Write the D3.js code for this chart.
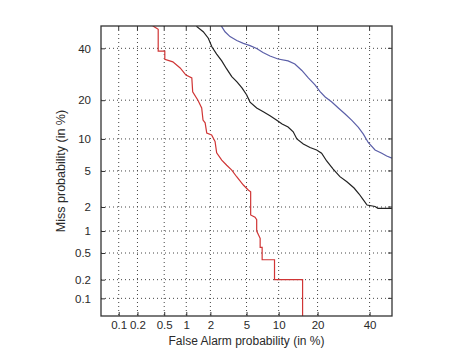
<!DOCTYPE html>
<html>
<head>
<meta charset="utf-8">
<script src="https://cdn.jsdelivr.net/npm/d3@7"></script>
<style>
  body { margin: 0; background: #fff; }
  svg { display: block; }
  text { font-family: "Liberation Sans", Arial, sans-serif; fill: #2a2a2a; }
</style>
</head>
<body>
<svg id="drawing_region"></svg>
<script>
// tick labels (in %)
const xTicks = [0.1, 0.2, 0.5, 1, 2, 5, 10, 20, 40];
const yTicks = [0.1, 0.2, 0.5, 1, 2, 5, 10, 20, 40];

// curves: false alarm % / miss %
const redFA   = [0.30, 0.345, 0.41, 0.41, 0.51, 0.51, 0.66, 0.83, 0.99, 1.18, 1.21, 1.41, 1.57, 1.63, 1.73, 1.81, 2.07, 2.27, 2.37, 2.71, 3.08, 3.5, 3.95, 4.64, 5.2, 5.5, 5.5, 6.07, 6.3, 6.3, 6.8, 6.8, 7.1, 7.1, 9.2, 9.2, 15.6, 15.6];
const redMiss = [55, 50, 48.5, 38.8, 38.8, 35.3, 34.2, 31.7, 28.9, 27.8, 22.8, 20.0, 17.6, 14.3, 13.6, 11.2, 10.8, 9.5, 7.5, 6.4, 5.7, 5.1, 4.36, 3.56, 3.14, 3.0, 1.6, 1.5, 1.4, 1.0, 0.8, 0.6, 0.6, 0.4, 0.4, 0.2, 0.2, 0.01];

const blackFA   = [1.25, 1.37, 1.64, 1.89, 2.09, 2.37, 2.71, 3.08, 3.5, 3.98, 4.49, 5.02, 5.42, 6.3, 7.28, 8.39, 9.49, 10.7, 12.0, 13.2, 14.1, 15.8, 17.7, 19.7, 21.3, 23.0, 25.3, 27.8, 30.5, 33.4, 35.5, 37.3, 38.9, 42.4, 43.7, 50];
const blackMiss = [55, 49.7, 47.4, 44.5, 40.6, 37.5, 34.6, 31.3, 28.3, 26.3, 24.1, 21.7, 19.4, 17.6, 16.5, 15.4, 14.4, 13.3, 12.6, 11.5, 10.0, 9.03, 8.4, 7.97, 7.44, 6.28, 5.23, 4.37, 3.86, 3.3, 2.83, 2.42, 2.11, 2.03, 1.93, 1.93];

const blueFA   = [2.52, 2.71, 2.95, 3.35, 3.96, 4.64, 5.42, 6.3, 7.23, 8.39, 9.88, 12.0, 13.6, 15.4, 17.2, 19.2, 20.8, 22.4, 24.8, 27.2, 29.8, 32.5, 35.2, 37.3, 39.4, 42.4, 45.4, 47.6, 50];
const blueMiss = [52, 49.7, 47.4, 45.2, 43.5, 42.2, 41.2, 39.9, 38.2, 36.7, 35.4, 34.6, 33.3, 30.7, 27.8, 25.2, 22.8, 21.1, 19.4, 17.6, 15.9, 14.2, 12.5, 11.0, 9.31, 7.97, 7.44, 7.0, 6.67];

// inverse of the standard normal cdf (Acklam)
function probit(p) {
    const a = [-3.969683028665376e+01, 2.209460984245205e+02, -2.759285104469687e+02, 1.383577518672690e+02, -3.066479806614716e+01, 2.506628277459239e+00];
    const b = [-5.447609879822406e+01, 1.615858368580409e+02, -1.556989798598866e+02, 6.680131188771972e+01, -1.328068155288572e+01];
    const c = [-7.784894002430293e-03, -3.223964580411365e-01, -2.400758277161838e+00, -2.549732539343734e+00, 4.374664141464968e+00, 2.938163982698783e+00];
    const d = [7.784695709041462e-03, 3.224671290700398e-01, 2.445134137142996e+00, 3.754408661907416e+00];
    const pl = 0.02425;
    let q, r;
    if (p < pl) {
        q = Math.sqrt(-2 * Math.log(p));
        return (((((c[0]*q+c[1])*q+c[2])*q+c[3])*q+c[4])*q+c[5]) / ((((d[0]*q+d[1])*q+d[2])*q+d[3])*q+1);
    }
    if (p <= 1 - pl) {
        q = p - 0.5; r = q * q;
        return (((((a[0]*r+a[1])*r+a[2])*r+a[3])*r+a[4])*r+a[5])*q / (((((b[0]*r+b[1])*r+b[2])*r+b[3])*r+b[4])*r+1);
    }
    q = Math.sqrt(-2 * Math.log(1 - p));
    return -(((((c[0]*q+c[1])*q+c[2])*q+c[3])*q+c[4])*q+c[5]) / ((((d[0]*q+d[1])*q+d[2])*q+d[3])*q+1);
}

const config = { width: 474, height: 354, left: 101, right: 392, top: 26, bottom: 316 };
const lo = probit(0.0005), hi = probit(0.5);

const xs = d3.scaleLinear().domain([lo, hi]).range([config.left, config.right]);
const ys = d3.scaleLinear().domain([lo, hi]).range([config.bottom, config.top]);
const xp = v => xs(probit(v / 100));
const yp = v => ys(probit(v / 100));

const svg = d3.select('#drawing_region')
    .attr('width', config.width)
    .attr('height', config.height);

svg.append('defs').append('clipPath').attr('id', 'clip')
    .append('rect')
    .attr('x', config.left).attr('y', config.top)
    .attr('width', config.right - config.left)
    .attr('height', config.bottom - config.top);

// grid
const grid = svg.append('g');
grid.selectAll('.gx').data(xTicks).enter().append('line')
    .attr('x1', d => xp(d)).attr('x2', d => xp(d))
    .attr('y1', config.top).attr('y2', config.bottom)
    .attr('stroke', '#444').attr('stroke-width', 1).attr('stroke-dasharray', '1,3');
grid.selectAll('.gy').data(yTicks).enter().append('line')
    .attr('y1', d => yp(d)).attr('y2', d => yp(d))
    .attr('x1', config.left).attr('x2', config.right)
    .attr('stroke', '#444').attr('stroke-width', 1).attr('stroke-dasharray', '1,3');

// curves
const line = d3.line().x(d => xp(d[0])).y(d => yp(d[1]));
const curves = [
    { fa: blueFA, miss: blueMiss, color: '#5b5fa8' },
    { fa: blackFA, miss: blackMiss, color: '#222' },
    { fa: redFA, miss: redMiss, color: '#d03535' }
];
const plot = svg.append('g').attr('clip-path', 'url(#clip)');
curves.forEach(c => {
    plot.append('path')
        .datum(d3.zip(c.fa, c.miss))
        .attr('d', line)
        .attr('fill', 'none')
        .attr('stroke', c.color)
        .attr('stroke-width', 1.2);
});

// axes
const xAxis = d3.axisBottom(xs)
    .tickValues(xTicks.map(v => probit(v / 100)))
    .tickFormat((d, i) => xTicks[i])
    .tickSizeInner(-4).tickSizeOuter(0).tickPadding(5);
const yAxis = d3.axisLeft(ys)
    .tickValues(yTicks.map(v => probit(v / 100)))
    .tickFormat((d, i) => yTicks[i])
    .tickSizeInner(-4).tickSizeOuter(0).tickPadding(10);

const gx = svg.append('g').attr('transform', `translate(0,${config.bottom})`).call(xAxis);
const gy = svg.append('g').attr('transform', `translate(${config.left},0)`).call(yAxis);
[gx, gy].forEach(g => {
    g.select('.domain').remove();
    g.selectAll('line').attr('stroke', '#333');
    g.selectAll('text').attr('font-size', 11.5).attr('fill', '#2a2a2a')
        .attr('font-family', '"Liberation Sans", Arial, sans-serif');
});

// ticks on top and right
svg.append('g').selectAll('line').data(xTicks).enter().append('line')
    .attr('x1', d => xp(d)).attr('x2', d => xp(d))
    .attr('y1', config.top).attr('y2', config.top + 4)
    .attr('stroke', '#333');
svg.append('g').selectAll('line').data(yTicks).enter().append('line')
    .attr('y1', d => yp(d)).attr('y2', d => yp(d))
    .attr('x1', config.right).attr('x2', config.right - 4)
    .attr('stroke', '#333');

// frame
svg.append('rect')
    .attr('x', config.left).attr('y', config.top)
    .attr('width', config.right - config.left)
    .attr('height', config.bottom - config.top)
    .attr('fill', 'none').attr('stroke', '#333').attr('stroke-width', 1.3);

// titles
svg.append('text')
    .attr('x', (config.left + config.right) / 2).attr('y', 345)
    .attr('text-anchor', 'middle').attr('font-size', 12)
    .text('False Alarm probability (in %)');
svg.append('text')
    .attr('transform', `translate(65,${(config.top + config.bottom) / 2}) rotate(-90)`)
    .attr('text-anchor', 'middle').attr('font-size', 12.5)
    .text('Miss probability (in %)');
</script>
</body>
</html>
